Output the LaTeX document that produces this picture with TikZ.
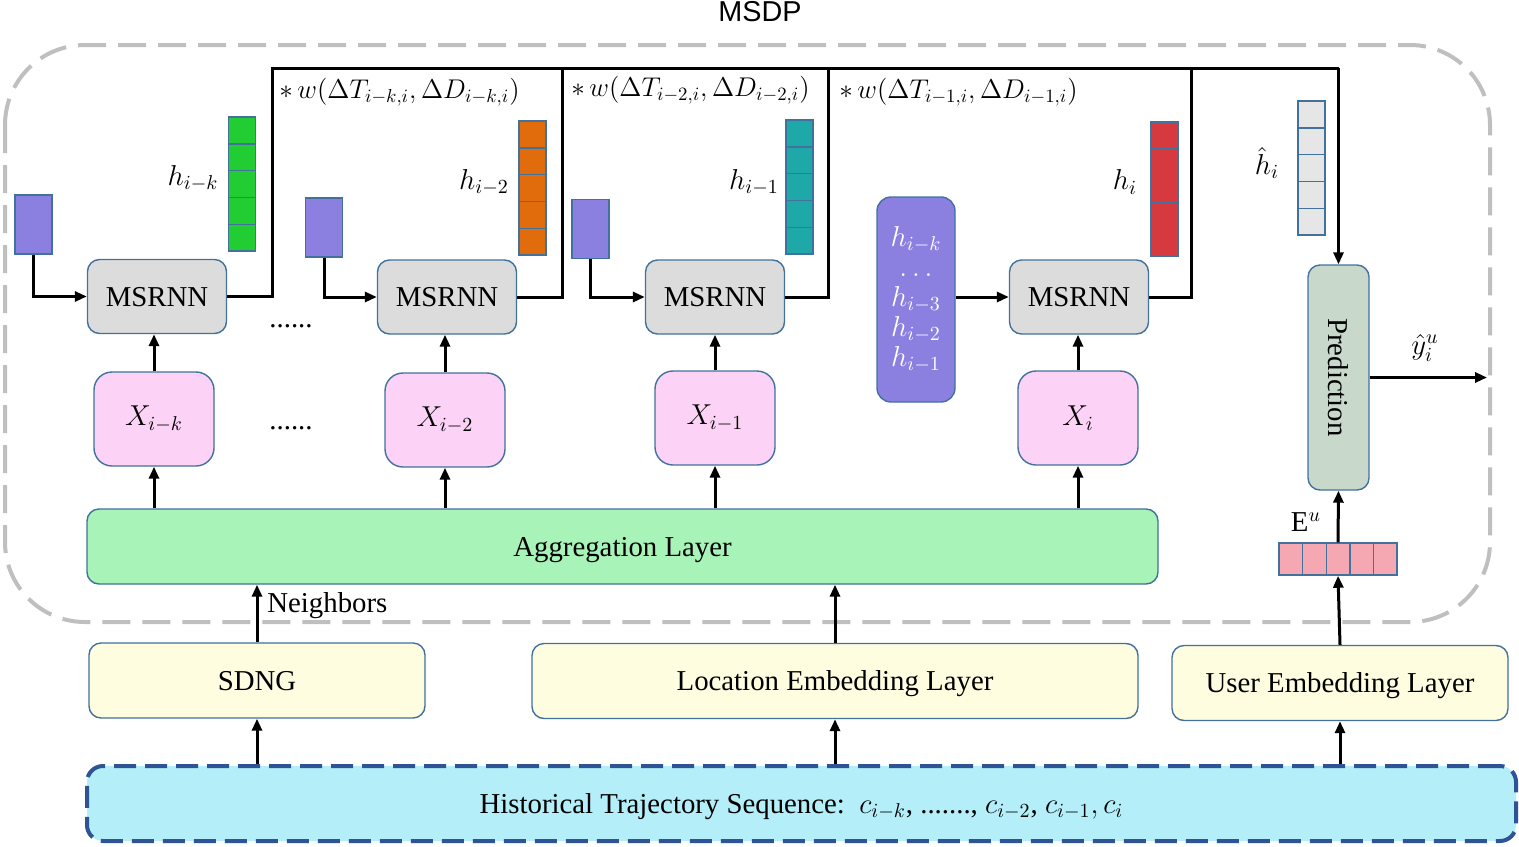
\documentclass[tikz,border=0pt]{standalone}
\usepackage{fontspec}
\setmainfont{Liberation Serif}
\newfontfamily\msdpfont{Liberation Sans}
\usetikzlibrary{arrows.meta}
\definecolor{boxline}{HTML}{41719C}
\definecolor{msdpgray}{HTML}{BFBFBF}
\definecolor{rnngray}{HTML}{DCDCDC}
\definecolor{xpink}{HTML}{FCD3F6}
\definecolor{feedpurple}{HTML}{8B80E0}
\definecolor{agggreen}{HTML}{A8F4B8}
\definecolor{embyellow}{HTML}{FEFDE0}
\definecolor{histcyan}{HTML}{B3EEF9}
\definecolor{histblue}{HTML}{2F5496}
\definecolor{predgreen}{HTML}{C8D9CB}
\definecolor{epink}{HTML}{F5A8B1}
\definecolor{vgreen}{HTML}{22CC33}
\definecolor{vorange}{HTML}{E06C0C}
\definecolor{vteal}{HTML}{1FA8A8}
\definecolor{vred}{HTML}{D63A3E}
\definecolor{vhat}{HTML}{E6E6E6}
\begin{document}
\begin{tikzpicture}[x=0.5pt,y=-0.5pt,
    font=\fontsize{14.4}{16}\selectfont,
    box/.style={draw=boxline,line width=0.7pt,rounded corners=6pt,inner sep=0pt},
    word/.style={text height=12pt,text depth=2.5pt},
    rnn/.style={box,word,fill=rnngray,minimum width=69.5pt,minimum height=37pt},
    xin/.style={box,fill=xpink,minimum width=60pt,minimum height=47pt,rounded corners=9pt},
    emb/.style={box,word,fill=embyellow,minimum height=37.5pt},
    cell/.style={draw=boxline,line width=0.7pt,minimum width=13.5pt,minimum height=13.4pt,inner sep=0pt},
    feed/.style={draw=boxline,fill=feedpurple,line width=0.7pt,minimum width=18.5pt,minimum height=29.5pt,inner sep=0pt},
    wlabel/.style={anchor=west,inner sep=1pt},
    link/.style={line width=1.5pt,-{Triangle[length=6pt,width=5pt]}},
    bus/.style={line width=1.5pt}]
  \useasboundingbox (0,0) rectangle (1519,846);

  % MSDP frame
  \draw[msdpgray,line width=2pt,dash pattern=on 14pt off 6pt,rounded corners=40pt] (5,45) rectangle (1490,622);
  \path (760,12) node[font=\msdpfont\fontsize{14.4}{16}\selectfont] (title) {MSDP};

  % recurrent cells
  \path (157,296.5) node[rnn] (R1) {MSRNN};
  \path (447,297) node[rnn] (R2) {MSRNN};
  \path (715,297) node[rnn] (R3) {MSRNN};
  \path (1079,297) node[rnn] (R4) {MSRNN};

  \path (154,419) node[xin] (X1) {$X_{i-k}$};
  \path (445,420) node[xin] (X2) {$X_{i-2}$};
  \path (715,418) node[xin] (X3) {$X_{i-1}$};
  \path (1078,418) node[xin] (X4) {$X_i$};

  \path (33.5,224.5) node[feed] (f1) {};
  \path (324,227.5) node[feed] (f2) {};
  \path (590.5,229) node[feed] (f3) {};
  \path (916,299.5) node[box,fill=feedpurple,minimum width=39pt,minimum height=102.5pt,
      text=white,align=center,rounded corners=7pt,font=\fontsize{14.4}{15}\selectfont] (hs)
      {$h_{i-k}$\\ $\dots$\\ $h_{i-3}$\\ $h_{i-2}$\\ $h_{i-1}$};

  % hidden state vectors
  \foreach \k in {0,...,4} {
    \path (242,130.4+26.8*\k) node[cell,fill=vgreen] (g\k) {};
    \path (532.5,134.4+26.8*\k) node[cell,fill=vorange] (o\k) {};
    \path (799.5,133.4+26.8*\k) node[cell,fill=vteal] (t\k) {};
    \path (1164.5,135.4+26.8*\k) node[cell,fill=vred] (r\k) {};
    \path (1311.5,114.4+26.8*\k) node[cell,fill=vhat] (v\k) {};
    \path (1290.8+23.6*\k,559) node[cell,fill=epink,minimum width=11.8pt,minimum height=16pt] (e\k) {};
  }

  \path (193,178) node (lhk) {$h_{i-k}$};
  \path (484,182) node (lh2) {$h_{i-2}$};
  \path (754,182) node (lh1) {$h_{i-1}$};
  \path (1125,182) node (lh0) {$h_i$};
  \path (1267,163) node[inner sep=1pt] (lhh) {$\hat{h}_i$};
  \path (1425,348) node[inner sep=1pt] (ly) {$\hat{y}_i^u$};
  \path (1306,522) node (lE) {E$^u$};

  \path (277,92) node[wlabel] (w1) {\scalebox{0.94}{$\ast\,w(\Delta T_{i-k,i},\Delta D_{i-k,i})$}};
  \path (569,90) node[wlabel] (w2) {\scalebox{0.94}{$\ast\,w(\Delta T_{i-2,i},\Delta D_{i-2,i})$}};
  \path (837,92) node[wlabel] (w3) {\scalebox{0.94}{$\ast\,w(\Delta T_{i-1,i},\Delta D_{i-1,i})$}};

  \path (291,326) node (d1) {......};
  \path (291,428) node (d2) {......};

  % layers
  \path (622.5,546.5) node[box,word,fill=agggreen,minimum width=535.5pt,minimum height=37.5pt] (agg) {Aggregation Layer};
  \path (1338.5,377.5) node[box,fill=predgreen,minimum width=30.5pt,minimum height=112.5pt] (P) {\rotatebox{-90}{Prediction}};
  \path (257,680.5) node[emb,minimum width=168pt] (sdng) {SDNG};
  \path (835,681) node[emb,minimum width=303pt] (loc) {Location Embedding Layer};
  \path (1340,683) node[emb,minimum width=168pt] (user) {User Embedding Layer};
  \path (801.5,803.5) node[word,draw=histblue,fill=histcyan,line width=2pt,dash pattern=on 11pt off 4.5pt,
      rounded corners=8pt,minimum width=714.5pt,minimum height=37.5pt] (hist)
      {Historical Trajectory Sequence:\enspace $c_{i-k}$, ......., $c_{i-2}$, $c_{i-1}, c_i$};
  \path (265,606) node[wlabel] (nb) {Neighbors};

  % connectors
  \coordinate (b1) at (272,68);
  \coordinate (b2) at (562,68);
  \coordinate (b3) at (828,68);
  \coordinate (b4) at (1191,68);
  \coordinate (b5) at (1338.5,68);
  \coordinate (out) at (1487,377.5);
  \draw[bus] (R1.east) -| (b1) -- (b5);
  \draw[bus] (R2.east) -| (b2);
  \draw[bus] (R3.east) -| (b3);
  \draw[bus] (R4.east) -| (b4);
  \draw[link] (b5) -- (P.north);
  \draw[link] (f1.south) |- (R1.west);
  \draw[link] (f2.south) |- (R2.west);
  \draw[link] (f3.south) |- (R3.west);
  \draw[link] (hs.east |- R4.west) -- (R4.west);
  \foreach \i in {1,...,4} {
    \draw[link] (X\i.north) -- (X\i.north |- R\i.south);
    \draw[link] (X\i.south |- agg.north) -- (X\i.south);
  }
  \draw[link] (sdng.north) -- (sdng.north |- agg.south);
  \draw[link] (loc.north) -- (loc.north |- agg.south);
  \draw[link] (user.north) -- (e2.south);
  \draw[link] (e2.north) -- (P.south);
  \draw[link] (P.east) -- (out);
  \draw[link] (sdng.south |- hist.north) -- (sdng.south);
  \draw[link] (loc.south |- hist.north) -- (loc.south);
  \draw[link] (user.south |- hist.north) -- (user.south);
\end{tikzpicture}
\end{document}
